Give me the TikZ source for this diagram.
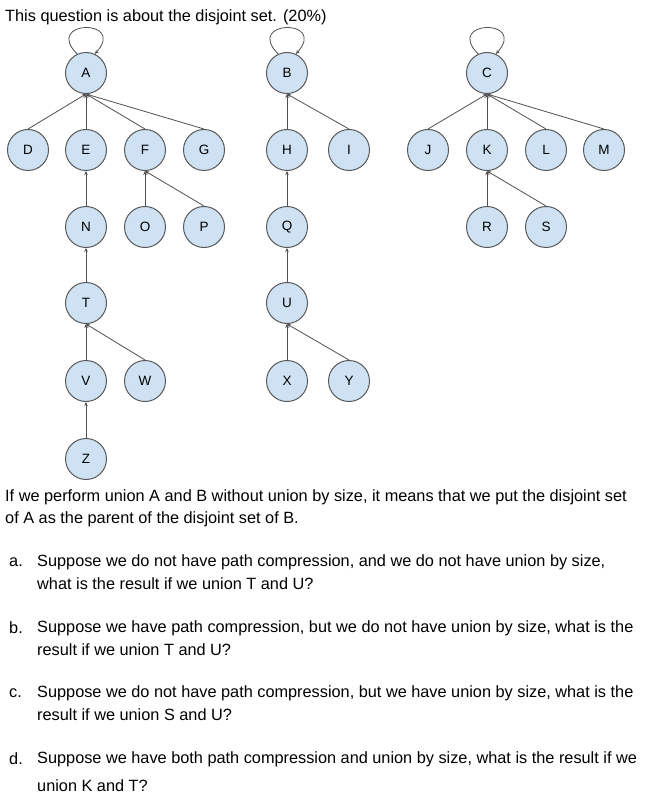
\documentclass[tikz,border=0pt]{standalone}
\usepackage{fontspec}
\setmainfont{Liberation Sans}
\usetikzlibrary{arrows.meta}
\definecolor{nfill}{HTML}{CFE2F3}
\definecolor{ndraw}{HTML}{595959}
\begin{document}
\begin{tikzpicture}[x=1pt,y=-1pt,
  nd/.style={circle,draw=ndraw,line width=1pt,fill=nfill,minimum size=41pt,inner sep=0pt,font=\fontsize{13.5}{15}\selectfont},
  ed/.style={draw=ndraw!90!black,line width=0.8pt,-{Stealth[length=4pt,width=3.5pt]}},
  txt/.style={anchor=west,inner sep=0pt,font=\fontsize{16.3}{22}\selectfont}]
\useasboundingbox[fill=white] (0,0) rectangle (646,802);
\node[txt] (title) at (5,17) {This question is about the disjoint set. (20\%)};
\foreach \n/\x/\y in {A/86/73,D/28/150,E/86/150,F/145/150,G/204/150,
  B/287/73,H/287/150,I/349/150,C/487/73,J/428/150,K/487/150,L/546/150,M/604/150,
  N/86/227,O/145/227,P/204/227,Q/287/227,R/487/227,S/546/227,
  T/86/303,U/287/303,V/86/381,W/145/381,X/287/381,Y/349/381,Z/86/459}
  \node[nd] (\n) at (\x,\y) {\n};
\foreach \c/\p in {D/A,E/A,F/A,G/A,H/B,I/B,J/C,K/C,L/C,M/C,N/E,O/F,P/F,Q/H,R/K,S/K,T/N,U/Q,V/T,W/T,X/U,Y/U,Z/V}
  \draw[ed] (\c.north) -- (\p.south);
\foreach \r in {A,B,C}
  \draw[ed] (\r.115) .. controls ([shift={(-34,-34)}]\r.115) and ([shift={(32,-36)}]\r.65) .. (\r.65);
\node[txt] (p1) at (5,497) {If we perform union A and B without union by size, it means that we put the disjoint set};
\node[txt] (p2) at (5,519) {of A as the parent of the disjoint set of B.};
\foreach \l/\ya/\la/\lb in {
  a/562/{Suppose we do not have path compression, and we do not have union by size,}/{what is the result if we union T and U?},
  b/628/{Suppose we have path compression, but we do not have union by size, what is the}/{result if we union T and U?},
  c/693/{Suppose we do not have path compression, but we have union by size, what is the}/{result if we union S and U?}}{
  \node[txt] (l\l) at (9,\ya) {\l.};
  \node[txt] (q\l) at (37,\ya) {\la};
  \node[txt] (r\l) at (37,\ya+22) {\lb};
}
\node[txt] (ld) at (9,759) {d.};
\node[txt] (qd) at (37,759) {Suppose we have both path compression and union by size, what is the result if we};
\node[txt] (rd) at (37,786) {union K and T?};
\end{tikzpicture}
\end{document}
